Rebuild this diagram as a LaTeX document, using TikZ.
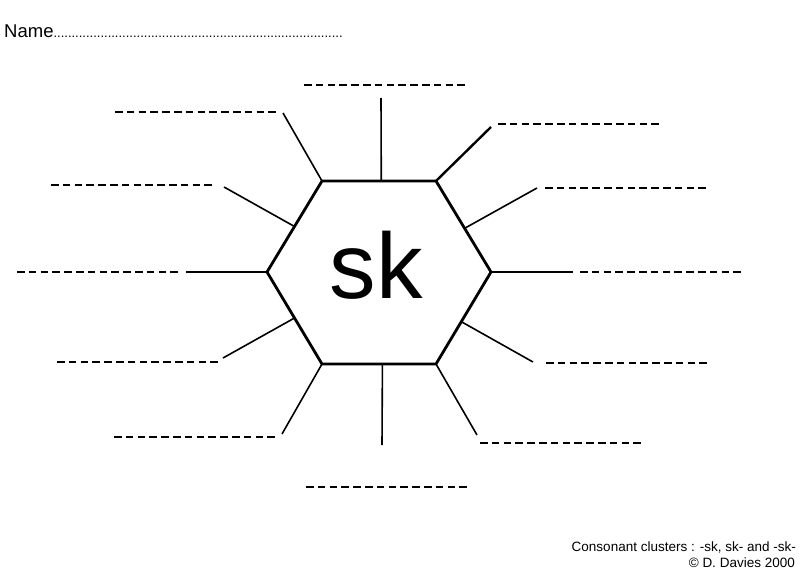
\documentclass[tikz,border=0pt]{standalone}
\usepackage{fontspec}
\setmainfont{Liberation Sans}
\usetikzlibrary{calc,positioning}

\begin{document}
\begin{tikzpicture}[x=1pt, y=-1pt,
    hexline/.style={line width=2.8pt, line join=miter},
    spoke/.style={line width=1.6pt},
    thickspoke/.style={line width=2.4pt},
    answerline/.style={line width=1.9pt, dash pattern=on 7.5pt off 4.3pt},
    every node/.style={inner sep=0pt}]
            \useasboundingbox (0,0) rectangle (800,575);

            % name line and footer
            \node[anchor=base west, font=\fontsize{18.5}{20}\selectfont] (name) at (4,38)
                {Name{\fontsize{13}{13}\selectfont................................................................................}};
            \node[anchor=base east, font=\fontsize{13.5}{15}\selectfont] (topic) at (796,551)
                {Consonant clusters : -sk, sk- and -sk-};
            \node[anchor=base east, font=\fontsize{13.5}{15}\selectfont] (credit) at (795,567)
                {\textcopyright{} D. Davies 2000};

            % hexagon corners
            \coordinate (c1) at (322,181);
            \coordinate (c2) at (436,181);
            \coordinate (c3) at (491,272);
            \coordinate (c4) at (436,364);
            \coordinate (c5) at (322,364);
            \coordinate (c6) at (267,272);
            \draw[hexline] (c1) -- (c2) -- (c3) -- (c4) -- (c5) -- (c6) -- cycle;
            \node[anchor=base, font=\fontsize{93}{93}\selectfont] (cluster) at (376,298) {sk};

            % outer ends of the spokes
            \coordinate (o1) at (283,113);
            \coordinate (o2) at (491,127);
            \coordinate (o3) at (573,272);
            \coordinate (o4) at (477,435);
            \coordinate (o5) at (282,434);
            \coordinate (o6) at (186,272);
            \coordinate (m12) at (381,98);
            \coordinate (m23) at (537,188);
            \coordinate (m34) at (533,362);
            \coordinate (m45) at (382,445);
            \coordinate (m56) at (223,358);
            \coordinate (m61) at (224,187);

            % spokes from the corners
            \draw[spoke] (c1) -- (o1);
            \draw[thickspoke] (c2) -- (o2);
            \draw[spoke] (c3) -- (o3);
            \draw[spoke] (c4) -- (o4);
            \draw[spoke] (c5) -- (o5);
            \draw[spoke] (c6) -- (o6);

            % spokes from the sides
            \draw[spoke] ($(c1)!0.52!(c2)$) -- (m12);
            \draw[spoke] ($(c2)!0.52!(c3)$) -- (m23);
            \draw[spoke] ($(c3)!0.54!(c4)$) -- (m34);
            \draw[spoke] ($(c5)!0.53!(c4)$) -- (m45);
            \draw[spoke] ($(c6)!0.5!(c5)$) -- (m56);
            \draw[spoke] ($(c1)!0.5!(c6)$) -- (m61);

            % answer lines (left end, right end)
            \coordinate (a1) at (304,85);  \coordinate (b1) at (466,85);
            \coordinate (a2) at (115,112); \coordinate (b2) at (277,112);
            \coordinate (a3) at (498,124); \coordinate (b3) at (660,124);
            \coordinate (a4) at (51,185);  \coordinate (b4) at (213,185);
            \coordinate (a5) at (545,188); \coordinate (b5) at (707,188);
            \coordinate (a6) at (17,272);  \coordinate (b6) at (179,272);
            \coordinate (a7) at (580,272); \coordinate (b7) at (742,272);
            \coordinate (a8) at (57,362);  \coordinate (b8) at (219,362);
            \coordinate (a9) at (546,363); \coordinate (b9) at (708,363);
            \coordinate (a10) at (114,437); \coordinate (b10) at (276,437);
            \coordinate (a11) at (306,487); \coordinate (b11) at (468,487);
            \coordinate (a12) at (480,443); \coordinate (b12) at (642,443);
            \draw[answerline] (a1) -- (b1);
            \draw[answerline] (a2) -- (b2);
            \draw[answerline] (a3) -- (b3);
            \draw[answerline] (a4) -- (b4);
            \draw[answerline] (a5) -- (b5);
            \draw[answerline] (a6) -- (b6);
            \draw[answerline] (a7) -- (b7);
            \draw[answerline] (a8) -- (b8);
            \draw[answerline] (a9) -- (b9);
            \draw[answerline] (a10) -- (b10);
            \draw[answerline] (a11) -- (b11);
            \draw[answerline] (a12) -- (b12);
        \end{tikzpicture}
\end{document}
